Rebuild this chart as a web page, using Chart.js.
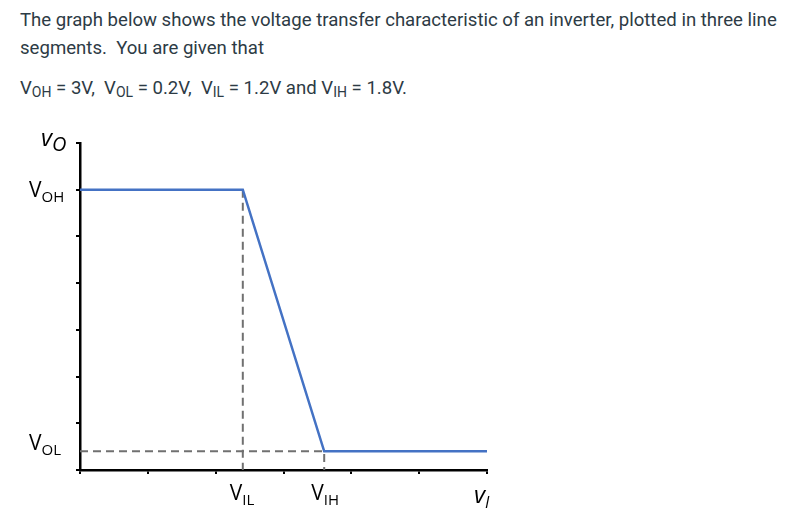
<!DOCTYPE html>
<html>
<head>
<meta charset="utf-8">
<script src="https://cdn.jsdelivr.net/npm/chart.js@4"></script>
<style>
  html, body { margin: 0; padding: 0; background: #fff; }
  #wrap { position: relative; width: 812px; height: 531px; overflow: hidden; }
  #intro { position: absolute; left: 20px; top: 6px; width: 800px; font-family: Roboto, sans-serif;
           font-size: 18.6px; color: #2d3b45; line-height: 28px; white-space: nowrap; }
  #intro p { margin: 0 0 12px 0; }
  #intro sub { font-size: 14px; vertical-align: -3px; line-height: 0; }
  canvas { position: absolute; left: 0; top: 0; }
</style>
</head>
<body>
<div id="wrap">
  <div id="intro">
    <p>The graph below shows the voltage transfer characteristic of an inverter, plotted in three line<br>segments.&nbsp; You are given that</p>
    <p>V<sub>OH</sub> = 3V,&nbsp; V<sub>OL</sub> = 0.2V,&nbsp; V<sub>IL</sub> = 1.2V and V<sub>IH</sub> = 1.8V.</p>
  </div>
  <canvas id="vtc" width="812" height="531"></canvas>
</div>
<script>
// transfer curve corners (vin, vout)
const vin = [0, 1.2, 1.8, 3];
const vout = [3, 3, 0.2, 0.2];

// guide lines
const vilGuideX = [1.2, 1.2];
const vilGuideY = [3, -0.05];
const volGuideX = [0, 1.8, 1.8];
const volGuideY = [0.2, 0.2, -0.05];

// axis ranges
const xRange = [0, 3];
const yRange = [0, 3.5];
const tickStep = 0.5;

// marked values on the axes
const yMarks = [3, 0.2];
const yMarkSubs = ['OH', 'OL'];
const xMarks = [1.2, 1.8];
const xMarkSubs = ['IL', 'IH'];

const pts = (xs, ys) => xs.map((x, i) => ({ x: x, y: ys[i] }));

const labelPlugin = {
    id: 'axisMarks',
    afterDraw(chart) {
        const c = chart.ctx;
        const xs = chart.scales.x, ys = chart.scales.y;
        const font = '"Open Sans", sans-serif';
        c.save();
        c.fillStyle = '#000';
        c.textBaseline = 'alphabetic';

        function sym(base, sub, x, y, size, subSize, italic) {
            c.font = (italic ? 'italic ' : '') + size + 'px ' + font;
            c.fillText(base, x, y);
            const w = c.measureText(base).width;
            c.font = (italic ? 'italic ' : '') + subSize + 'px ' + font;
            c.fillText(sub, x + w, y + 5);
        }

        // V_OH sits on its level, V_OL slightly above the dashed line
        sym('V', yMarkSubs[0], 29, ys.getPixelForValue(yMarks[0]) + 7, 21, 15, false);
        sym('V', yMarkSubs[1], 29, ys.getPixelForValue(yMarks[1]) - 1, 21, 15, false);
        xMarks.forEach((v, i) => {
            sym('V', xMarkSubs[i], xs.getPixelForValue(v) - 13, 500, 21, 15, false);
        });
        sym('v', 'O', 41, ys.top + 3, 24, 20, true);
        sym('v', 'I', xs.right - 13, 503, 24, 16, true);
        c.restore();
    }
};

new Chart(document.getElementById('vtc'), {
    type: 'scatter',
    data: {
        datasets: [
            {
                data: pts(vin, vout),
                showLine: true,
                borderColor: '#4472C4',
                borderWidth: 2.5,
                pointRadius: 0,
                order: 0
            },
            {
                data: pts(vilGuideX, vilGuideY),
                showLine: true,
                borderColor: '#707070',
                borderWidth: 2,
                borderDash: [8, 5],
                pointRadius: 0,
                order: 1
            },
            {
                data: pts(volGuideX, volGuideY),
                showLine: true,
                borderColor: '#707070',
                borderWidth: 2,
                borderDash: [8, 5],
                pointRadius: 0,
                order: 1
            }
        ]
    },
    options: {
        responsive: false,
        animation: false,
        layout: { padding: { left: 75, right: 325, top: 143, bottom: 56 } },
        plugins: { legend: { display: false }, tooltip: { enabled: false } },
        elements: { line: { tension: 0 } },
        scales: {
            x: {
                type: 'linear',
                min: xRange[0], max: xRange[1],
                ticks: { display: false, stepSize: tickStep },
                grid: { drawOnChartArea: false, drawTicks: true, tickLength: 4, color: '#000', lineWidth: 2 },
                border: { display: true, color: '#000', width: 2.5 },
                afterFit: s => { s.height = 5; }
            },
            y: {
                type: 'linear',
                min: yRange[0], max: yRange[1],
                ticks: { display: false, stepSize: tickStep },
                grid: { drawOnChartArea: false, drawTicks: true, tickLength: 4, color: '#000', lineWidth: 2 },
                border: { display: true, color: '#000', width: 2.5 },
                afterFit: s => { s.width = 5; }
            }
        }
    },
    plugins: [labelPlugin]
});
</script>
</body>
</html>
